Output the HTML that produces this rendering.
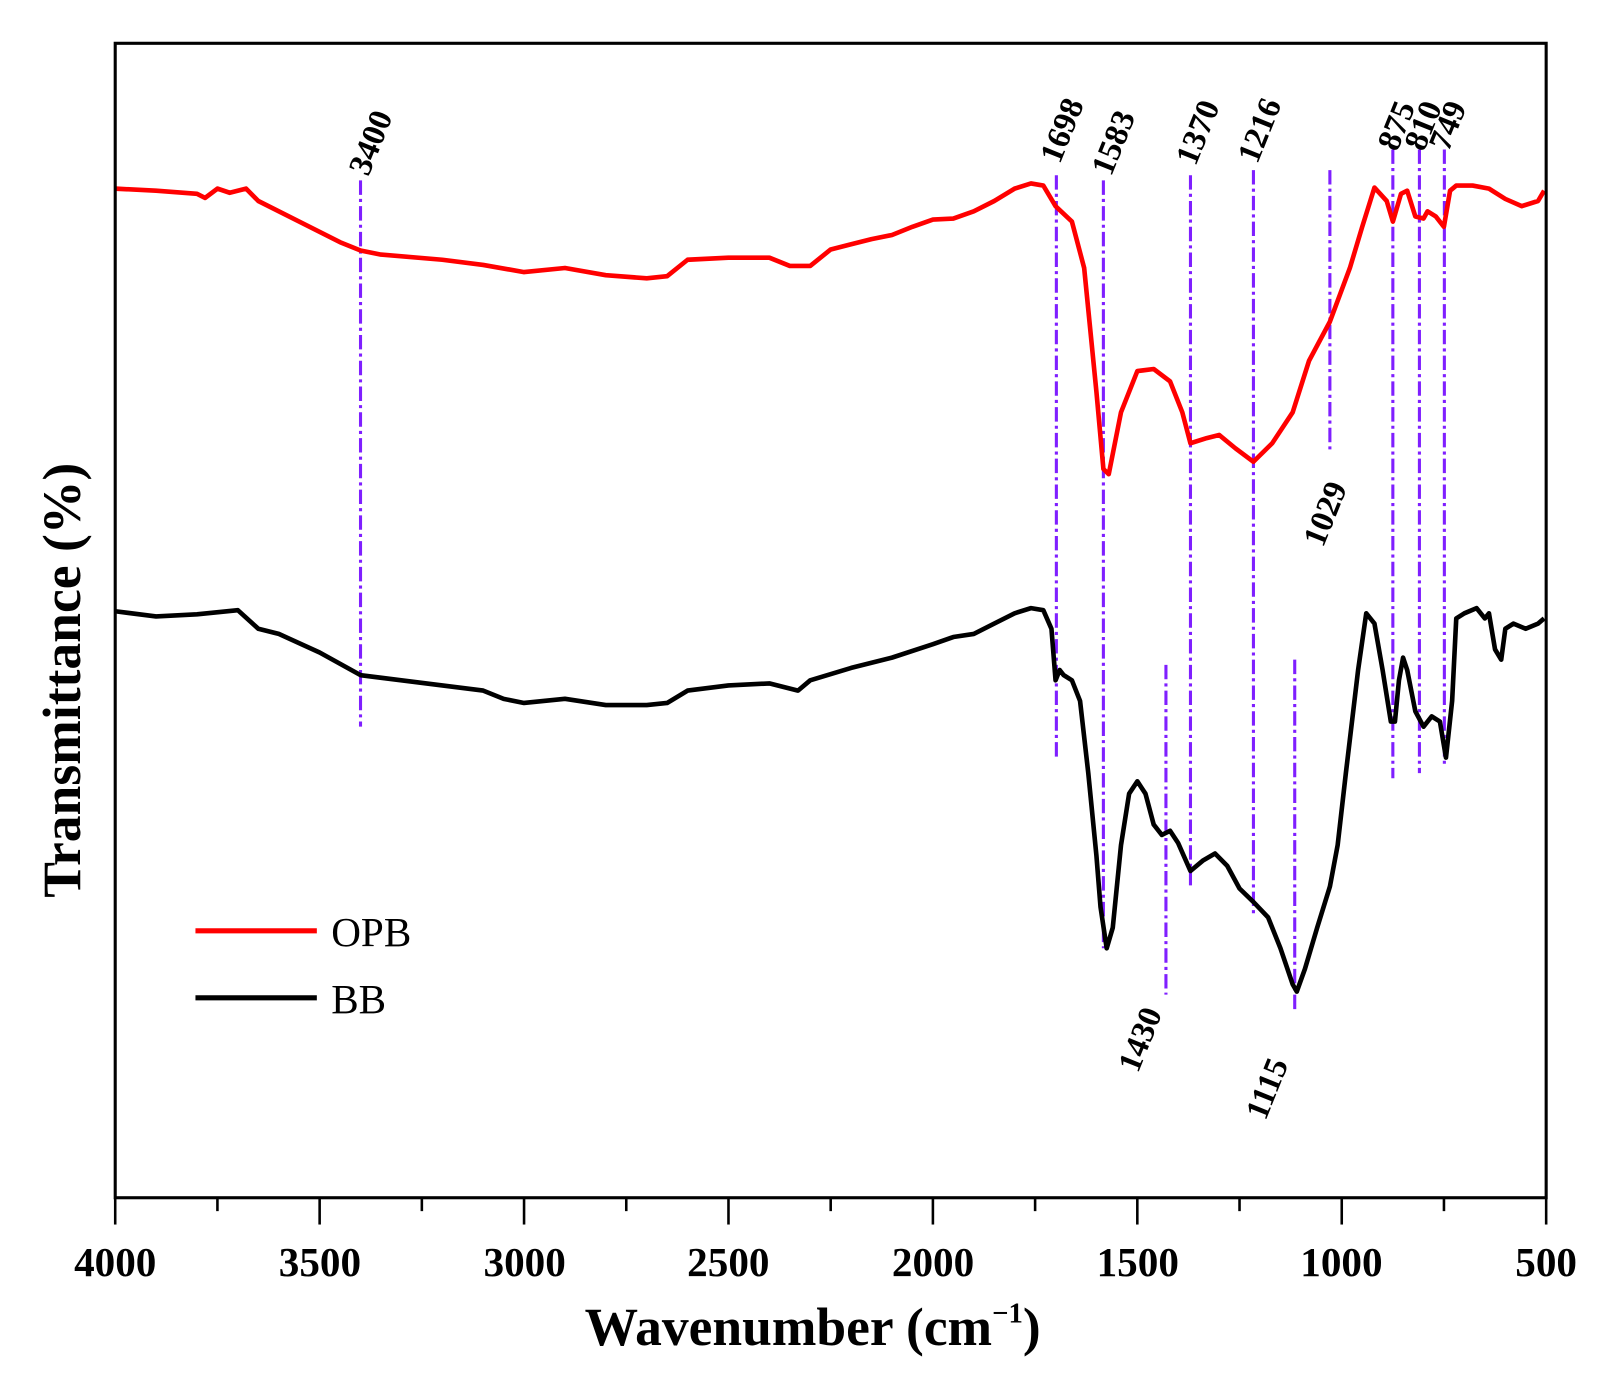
<!DOCTYPE html>
<html><head><style>html,body{margin:0;padding:0;background:#fff}svg{display:block}</style></head>
<body>
<svg id="sv" width="1612" height="1374" viewBox="0 0 1567 1333" preserveAspectRatio="none" xmlns="http://www.w3.org/2000/svg" font-family="Liberation Serif, serif">
<rect width="1567" height="1333" fill="#fff"/>
<g id="p"></g>
<rect x="112" y="42" width="1391" height="1120" fill="none" stroke="#000" stroke-width="3"/>
<g stroke="#000" stroke-width="2.5" id="ticks"></g>
<g font-size="40" font-weight="bold" text-anchor="middle">
<text x="112" y="1238" textLength="80" lengthAdjust="spacingAndGlyphs">4000</text><text x="311" y="1238" textLength="80" lengthAdjust="spacingAndGlyphs">3500</text><text x="510" y="1238" textLength="80" lengthAdjust="spacingAndGlyphs">3000</text><text x="708" y="1238" textLength="80" lengthAdjust="spacingAndGlyphs">2500</text><text x="907" y="1238" textLength="80" lengthAdjust="spacingAndGlyphs">2000</text><text x="1106" y="1238" textLength="80" lengthAdjust="spacingAndGlyphs">1500</text><text x="1304" y="1238" textLength="80" lengthAdjust="spacingAndGlyphs">1000</text><text x="1503" y="1238" textLength="60" lengthAdjust="spacingAndGlyphs">500</text>
</g>
<text x="790" y="1305" font-size="52" font-weight="bold" text-anchor="middle">Wavenumber (cm<tspan font-size="28" dy="-22">−1</tspan><tspan dy="22">)</tspan></text>
<text transform="translate(78,660) rotate(-90)" font-size="52" font-weight="bold" text-anchor="middle">Transmittance (%)</text>
<line x1="190" y1="903" x2="308" y2="903" stroke="#f00" stroke-width="5"/>
<text x="322" y="918" font-size="40">OPB</text>
<line x1="190" y1="968" x2="308" y2="968" stroke="#000" stroke-width="5"/>
<text x="322" y="983" font-size="40">BB</text>
<g font-size="32" font-weight="bold" id="labs"></g>
</svg>
<script>
var L=112,R=1503;function X(w){return L+(4000-w)/3500*(R-L);}
function path(d,c){var s='';for(var i=0;i<d.length;i+=2)s+=(i?'L':'M')+X(d[i]).toFixed(1)+' '+d[i+1]+' ';return '<path d="'+s+'" fill="none" stroke="'+c+'" stroke-width="4.5" stroke-linejoin="round"/>';}
var red=[4000,183,3900,185,3800,188,3780,192,3750,183,3720,187,3680,183,3650,195,3550,215,3450,235,3400,243,3350,247,3200,252,3100,257,3000,264,2900,260,2800,267,2700,270,2650,268,2600,252,2500,250,2400,250,2350,258,2300,258,2250,242,2200,237,2150,232,2100,228,2050,220,2000,213,1950,212,1900,205,1850,195,1800,183,1760,178,1730,180,1700,200,1660,215,1630,260,1600,380,1583,455,1570,460,1540,400,1500,360,1460,358,1420,370,1390,400,1370,430,1330,425,1300,422,1260,435,1216,448,1170,430,1120,400,1080,350,1029,312,980,260,950,220,920,182,890,195,875,215,855,188,840,185,820,210,800,212,790,205,770,210,750,220,735,185,720,180,680,180,640,183,600,193,560,200,520,195,505,185];
var blk=[4000,593,3900,598,3800,596,3700,592,3650,610,3600,615,3500,633,3400,655,3300,660,3200,665,3100,670,3050,678,3000,682,2900,678,2800,684,2700,684,2650,682,2600,670,2500,665,2400,663,2330,670,2300,660,2200,648,2100,638,2000,625,1950,618,1900,615,1850,605,1800,595,1760,590,1730,592,1710,610,1700,660,1690,650,1680,655,1660,660,1640,680,1620,750,1600,830,1590,880,1575,920,1560,900,1540,820,1520,770,1500,758,1480,770,1460,800,1440,810,1420,806,1400,818,1370,845,1340,835,1310,828,1280,840,1250,862,1216,875,1180,890,1150,920,1120,955,1110,962,1090,940,1060,900,1029,860,1010,820,990,750,960,650,940,595,920,605,900,650,880,700,870,700,860,660,850,638,840,650,820,690,800,705,780,695,760,700,745,735,730,680,720,600,700,595,670,590,650,600,640,595,625,630,610,640,600,610,580,605,550,610,520,605,505,600];
var vl=[[3400,175,705],[1698,170,735],[1583,175,920],[1430,645,965],[1370,170,860],[1216,165,890],[1115,640,980],[1029,165,440],[875,145,755],[810,145,750],[749,145,745]];
var s='';vl.forEach(function(v){s+='<line x1="'+X(v[0])+'" y1="'+v[1]+'" x2="'+X(v[0])+'" y2="'+v[2]+'" stroke="#7f1fff" stroke-width="3" stroke-dasharray="14,4,3,4"/>';});
s+=path(red,'#f00')+path(blk,'#000');
document.getElementById('p').innerHTML=s;
var t='';for(var w=4000;w>=500;w-=250){var x=X(w);t+='<line x1="'+x+'" y1="1162" x2="'+x+'" y2="'+(w%500?1175:1188)+'"/>';}
document.getElementById('ticks').innerHTML=t;
var lab=[[3400,358,172],[1698,1030,160],[1583,1080,172],[1370,1162,162],[1216,1222,160],[875,1358,148],[810,1384,148],[749,1408,148],[1029,1286,532],[1430,1106,1042],[1115,1230,1088]];
var u='';lab.forEach(function(l){u+='<text transform="translate('+l[1]+','+l[2]+') rotate(-68)">'+l[0]+'</text>';});
document.getElementById('labs').innerHTML=u;
</script>
</body></html>
